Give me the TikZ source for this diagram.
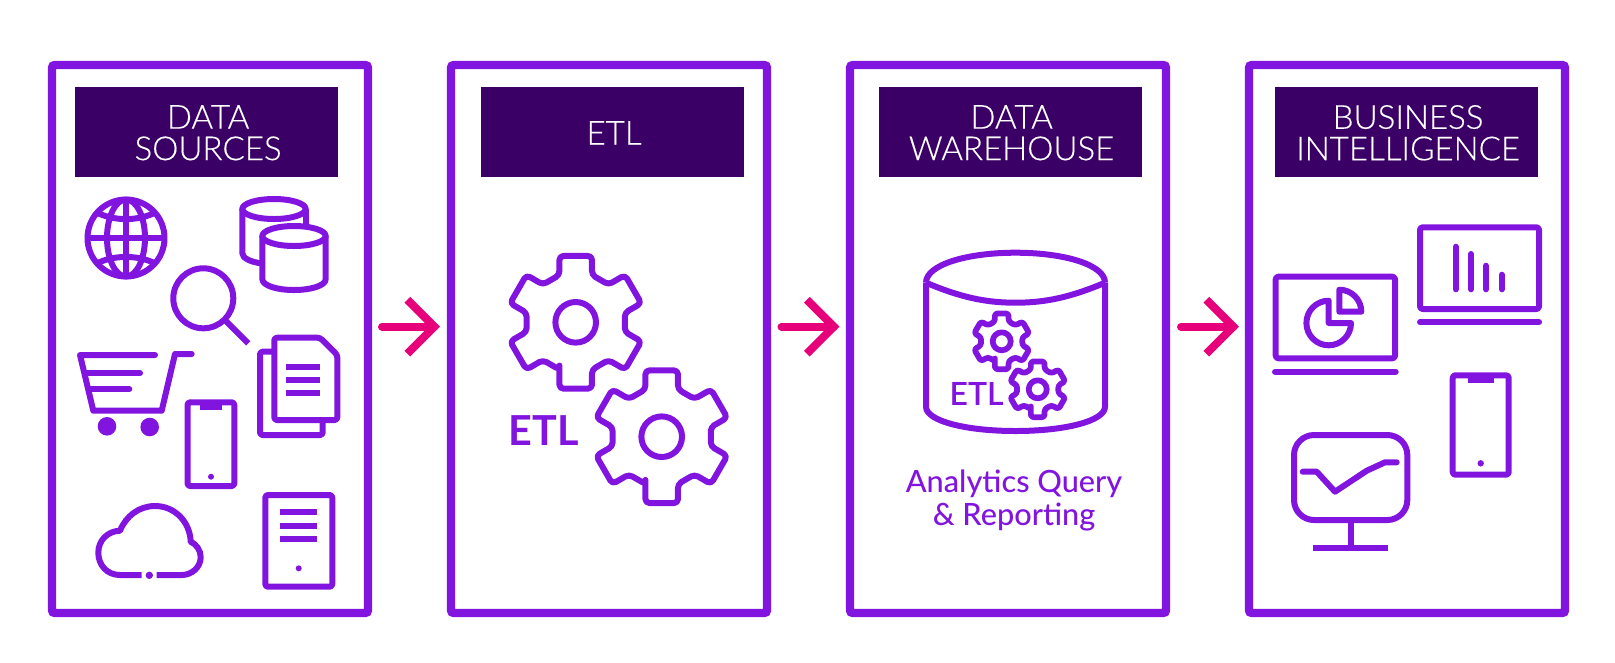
\documentclass[tikz,border=0pt]{standalone}
\usepackage{fontspec}
\setmainfont{Lato}
\newfontfamily\hdfont[FakeBold=0.35]{Lato Light}
\newfontfamily\mdfont{Lato Medium}
\newfontfamily\sbfont{Lato Semibold}
\newfontfamily\bdfont{Lato Bold}
\definecolor{vio}{RGB}{130,20,224}
\definecolor{deep}{RGB}{59,0,102}
\definecolor{rose}{RGB}{230,0,122}
\newcommand{\gearicon}[5]{%
  \begin{scope}[shift={(#1,#2)},scale=#3]
    \draw[ico,line width=#4,rounded corners=#5] (109:50)
      \foreach \a in {90,30,-30,-90,-150,-210}{
        -- (\a+19:50) -- (\a+13.8:68.3) -- (\a-13.8:68.3) -- (\a-19:50)
      } -- cycle;
  \end{scope}}
\tikzset{
  frame/.style={draw=vio,line width=6.2pt,rounded corners=2pt,minimum width=237pt,minimum height=411pt,inner sep=0pt},
  headbar/.style={fill=deep,minimum width=197.25pt,minimum height=68pt,inner sep=0pt},
  headtext/.style={text=white,inner sep=0pt,align=center,xshift=1.2pt,yshift=-0.6pt,
     font=\hdfont\fontsize{24.8}{23.6}\selectfont},
  ico/.style={draw=vio,line width=4.5pt,line join=round},
  icor/.style={ico,rounded corners=2pt},
  bar/.style={draw=vio,line width=4.5pt},
  rbar/.style={draw=vio,line width=4.5pt,line cap=round,line join=round},
  dot/.style={fill=vio,draw=none},
  lnk/.style={draw=rose,line width=6pt,line cap=round},
  lnkhead/.style={draw=rose,line width=6pt,line join=miter},
  vlabel/.style={text=vio,inner sep=0pt}
}
\begin{document}
\begin{tikzpicture}[x=0.75pt,y=-0.75pt]
\useasboundingbox (0,0) rectangle (1615,662);
% frames
\node[frame] (f1) at (210,339) {};
\node[frame] (f2) at (609,339) {};
\node[frame] (f3) at (1008,339) {};
\node[frame] (f4) at (1407,339) {};
% headers
\node[headbar] (h1) at (206.5,132) {};
\node[headbar] (h2) at (612.5,132) {};
\node[headbar] (h3) at (1010,132) {};
\node[headbar] (h4) at (1406.5,132) {};
\node[headtext] (l1) at (h1.center) {DATA\\SOURCES};
\node[headtext] (l2) at (h2.center) {ETL};
\node[headtext] (l3) at (h3.center) {DATA\\WAREHOUSE};
\node[headtext] (l4) at (h4.center) {BUSINESS\\INTELLIGENCE};
% arrows
\foreach \i/\dx in {1/0,2/399.5,3/799}{
  \coordinate (s\i) at (382+\dx,326.7);
  \coordinate (t\i) at (434.3+\dx,326.7);
  \draw[lnk] (s\i) -- (t\i);
  \draw[lnkhead] (t\i) ++(-27,-27) -- (t\i) -- ++(-27,27);
}
% globe
\draw[ico] (126,238) circle (38.5);
\draw[ico] (126,238) ellipse (19 and 38.5);
\draw[ico] (126,199.5) -- (126,276.5);
\draw[ico] (87.5,238) -- (164.5,238);
\draw[ico] (98.3,213.3) .. controls (115,221) and (137,221) .. (153.7,213.3);
\draw[ico] (98.3,262.7) .. controls (115,255) and (137,255) .. (153.7,262.7);
% cylinders
\draw[ico] (274,209) ellipse (31.7 and 10);
\draw[ico] (242.3,209) -- (242.3,253) .. controls (242.3,258) and (250,262) .. (262.3,263.5);
\draw[ico] (305.7,209) -- (305.7,226);
\draw[ico,fill=white] (262.3,236) -- (262.3,279) .. controls (262.3,286) and (278,290) .. (294,290) .. controls (310,290) and (325.7,286) .. (325.7,279) -- (325.7,236);
\draw[ico,fill=white] (294,236) ellipse (31.7 and 10);
% magnifier
\draw[ico] (203.3,298.3) circle (30);
\draw[bar] (225,320) -- (248.3,343.3);
% cart
\draw[rbar] (155,355) -- (80,355) -- (93.3,410.7) -- (161.7,410.7) -- (175,354) -- (191.7,354);
\draw[rbar] (85,373.3) -- (140,373.3);
\draw[rbar] (90,389.3) -- (129.3,389.3);
\fill[dot] (107,426.3) circle (9.3);
\fill[dot] (149.7,427) circle (9.3);
% phone 1
\draw[icor] (187.5,402.3) rectangle (234.3,486);
\fill[dot] (200,402.3) rectangle (222,410);
\fill[dot] (211,476.7) circle (3);
% documents
\draw[icor] (274.3,351.7) -- (260,351.7) -- (260,435) -- (322.7,435) -- (322.7,420);
\draw[icor] (274.3,337.7) -- (320,337.7) -- (337.3,355) -- (337.3,420) -- (274.3,420) -- cycle;
\foreach \y in {367,380,393}{\draw[bar] (285.7,\y) -- (320,\y);}
% cloud
\draw[ico,line cap=butt] (141.7,575) -- (120,575) .. controls (107,575) and (98.3,565) .. (98.3,552.7) .. controls (98.3,540) and (108,531) .. (120,530.7)
  .. controls (126,516) and (139,506) .. (155,506) .. controls (175,506) and (190,522) .. (190.7,541.7)
  .. controls (196,544) and (200.7,550) .. (200.7,557) .. controls (200.7,567) and (192,575) .. (181.7,575) -- (156.7,575);
\fill[dot] (149.3,575.3) circle (3.7);
% tablet
\draw[icor] (265.3,495) rectangle (332.3,586.7);
\foreach \y in {511.7,525.7,539.3}{\draw[bar] (280,\y) -- (317.3,\y);}
\fill[dot] (298.7,568.3) circle (3);
% gears
\gearicon{575.7}{322.3}{1}{4.5pt}{3pt}
\draw[ico] (575.7,322.3) circle (20.3);
\gearicon{661.7}{436.7}{1}{4.5pt}{3pt}
\draw[ico] (661.7,436.7) circle (20.3);
\node[vlabel,font=\bdfont\fontsize{31}{31}\selectfont] (etl) at (544,431) {ETL};
% database
\draw[ico] (926,282.7) .. controls (926,265) and (966,252.7) .. (1015.5,252.7) .. controls (1065,252.7) and (1105,265) .. (1105,282.7);
\draw[ico] (926,282.7) .. controls (960,297) and (985,302.7) .. (1015.5,302.7) .. controls (1046,302.7) and (1071,297) .. (1105,282.7);
\draw[ico] (926,282.7) -- (926,406.7) .. controls (926,421) and (966,431) .. (1015.5,431) .. controls (1065,431) and (1105,421) .. (1105,406.7) -- (1105,282.7);
\gearicon{1001.7}{341.3}{0.42}{4.3pt}{2pt}
\draw[ico,line width=4.3pt] (1001.7,341.3) circle (9);
\gearicon{1037.7}{389.3}{0.42}{4.3pt}{2pt}
\draw[ico,line width=4.3pt] (1037.7,389.3) circle (9);
\node[vlabel,font=\sbfont\fontsize{24}{24}\selectfont] (etlb) at (976.7,393.7) {ETL};
\node[vlabel,font=\mdfont\fontsize{23}{24.75}\selectfont,align=center] (aq) at (1014,500) {Analytics Query\\\& Reporting};
% laptop 1
\draw[icor] (1275.7,276.7) rectangle (1395,358.3);
\draw[rbar] (1275,371.7) -- (1395.7,371.7);
\draw[ico] (1328.7,301) -- (1328.7,323) -- (1351,323) arc[start angle=0,end angle=270,radius=22.3] -- cycle;
\draw[ico] (1339.3,311.7) -- (1339.3,289.7) arc[start angle=270,end angle=360,radius=22] -- cycle;
% laptop 2
\draw[icor] (1420,227.3) rectangle (1539,309);
\draw[rbar] (1420,322.3) -- (1539,322.3);
\foreach \x/\y in {1455.7/246.7,1471/254,1486/265.7,1501.7/274.7}{\draw[rbar] (\x,\y) -- (\x,289.3);}
% phone 2
\draw[icor] (1452.7,375.3) rectangle (1508.7,474.7);
\fill[dot] (1467.7,375.3) rectangle (1494,383.3);
\fill[dot] (1480.7,463.3) circle (3.2);
% monitor
\draw[ico,rounded corners=15pt] (1294,435) rectangle (1407.3,520);
\draw[bar] (1350.7,520) -- (1350.7,548.3);
\draw[bar] (1313,548.3) -- (1388,548.3);
\draw[rbar] (1302.7,471.7) -- (1316.7,471.7) -- (1335,491.7) -- (1366.7,470.7) -- (1385,462.3) -- (1396.7,462.3);
\end{tikzpicture}
\end{document}
